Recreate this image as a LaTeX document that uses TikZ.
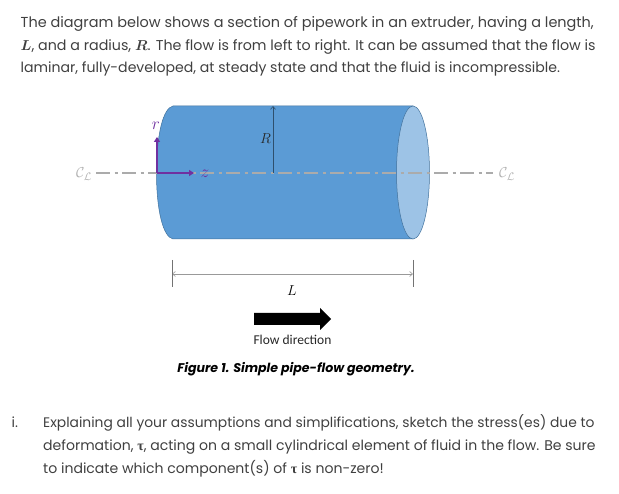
\documentclass[tikz,border=0pt]{standalone}
\usepackage{fontspec}
\setmainfont{Poppins}
\newfontfamily\calib{Carlito}
\newfontfamily\serifb{Liberation Serif}
\usetikzlibrary{arrows.meta}
\definecolor{pipeblue}{HTML}{5B9BD5}
\definecolor{pipeface}{HTML}{9DC3E6}
\definecolor{pipeedge}{HTML}{41719C}
\definecolor{axispurple}{HTML}{7030A0}
\definecolor{inktext}{HTML}{404040}
\newcommand{\boldtau}{{\serifb\bfseries τ}}
\newcommand{\linesize}[1]{\fontsize{#1}{16}\selectfont}
\tikzset{
 x=1pt,y=-1pt,
 textline/.style={anchor=base west,inner sep=0pt,text=inktext},
 pipefill/.style={fill=pipeblue,draw=pipeedge,line width=.5pt},
 centre/.style={draw=black!33,line width=1.5pt,dash pattern=on 14pt off 4.5pt on 3pt off 4.5pt},
 axisarrow/.style={draw=axispurple,line width=1.5pt,-{Triangle[length=5pt,width=6pt]}},
 purplelabel/.style={text=axispurple,inner sep=0pt,font=\fontsize{17}{19}\selectfont},
 dim/.style={draw=black!40,line width=.6pt,{Straight Barb[length=3pt,width=5pt]}-{Straight Barb[length=3pt,width=5pt]}},
 tick/.style={draw=black!55,line width=.8pt},
 clabel/.style={inner sep=0pt,text=black!30,font=\fontsize{15}{17}\selectfont},
}
\begin{document}
\begin{tikzpicture}
\useasboundingbox (0,0) rectangle (619,494);
\node[textline,font=\linesize{14.45}] (l1) at (20.5,28) {The diagram below shows a section of pipework in an extruder, having a length,};
\node[textline,font=\linesize{14.25}] (l2) at (20.5,50.5) {{\boldmath$L$}, and a radius, {\boldmath$R$}. The flow is from left to right. It can be assumed that the flow is};
\node[textline,font=\linesize{14.08}] (l3) at (20.5,73) {laminar, fully-developed, at steady state and that the fluid is incompressible.};
% pipe
\path[pipefill] (413,106) -- (173,106) .. controls (163,108) and (156.5,135) .. (156.5,173) .. controls (156.5,210) and (163,237) .. (173,239) -- (413,239) -- cycle;
\coordinate (facec) at (413,172.5);
\path[draw=pipeedge,fill=pipeface,line width=.5pt] (facec) ellipse [x radius=16.5,y radius=66.5];
% centre line
\coordinate (cl1) at (96,173);
\coordinate (cl2) at (493,173);
\draw[centre] (cl1) -- (cl2);
\node[clabel] (cL1) at (84,174) {$\mathcal{C}_{\mathcal{L}}$};
\node[clabel] (cL2) at (507,174) {$\mathcal{C}_{\mathcal{L}}$};
% axes
\coordinate (orig) at (157,173);
\coordinate (rtip) at (157,137);
\coordinate (ztip) at (194,173);
\draw[axisarrow] (orig) -- (rtip);
\draw[axisarrow] (orig) -- (ztip);
\node[purplelabel] (rl) at (156,125.5) {$r$};
\node[purplelabel] (zl) at (205,174) {$z$};
% radius
\coordinate (rtop) at (273,106);
\coordinate (rbot) at (273,173);
\draw[draw=pipeedge!70!black,line width=.6pt,-{Straight Barb[length=3pt,width=5pt]}] (rbot) -- (rtop);
\node[inner sep=0pt,font=\fontsize{15}{17}\selectfont,text=black!85] (Rl) at (265.5,139) {$R$};
% dimension
\coordinate (d1) at (172,274);
\coordinate (d2) at (413,274);
\coordinate (t1a) at (172,260);
\coordinate (t1b) at (172,287);
\coordinate (t2a) at (413,260);
\coordinate (t2b) at (413,287);
\draw[dim] (d1) -- (d2);
\draw[tick] (t1a) -- (t1b);
\draw[tick] (t2a) -- (t2b);
\node[inner sep=0pt,font=\fontsize{14.5}{17}\selectfont] (Ll) at (292,291) {$L$};
% flow arrow
\fill[black] (254,313) -- (320,313) -- (320,308) -- (331,319) -- (320,330) -- (320,325) -- (254,325) -- cycle;
\node[inner sep=0pt,font=\calib\fontsize{13.5}{15}\selectfont,text=black!85] (flow) at (292.5,340) {Flow direction};
\node[inner sep=0pt,font=\fontsize{12.6}{15}\selectfont\bfseries\itshape,text=black] (cap) at (296,369.5) {Figure 1. Simple pipe-flow geometry.};
% question
\node[textline,font=\linesize{14}] (q) at (11.5,428) {i.};
\node[textline,font=\linesize{13.85}] (q1) at (43,428) {Explaining all your assumptions and simplifications, sketch the stress(es) due to};
\node[textline,font=\linesize{14.05}] (q2) at (43,450.5) {deformation, \boldtau, acting on a small cylindrical element of fluid in the flow. Be sure};
\node[textline,font=\linesize{14.05}] (q3) at (43,473) {to indicate which component(s) of \boldtau{} is non-zero!};
\end{tikzpicture}
\end{document}
